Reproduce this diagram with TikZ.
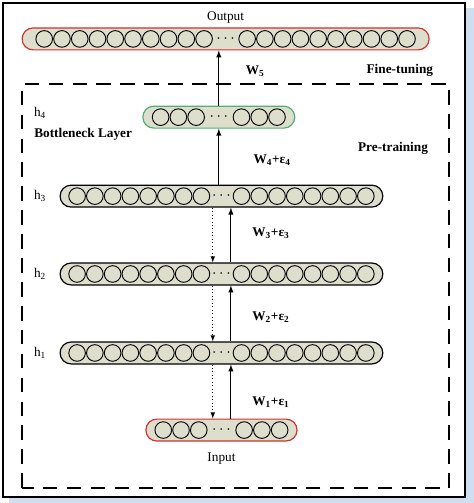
\documentclass[tikz,border=0pt]{standalone}
\usepackage{fontspec}
\setmainfont{Liberation Serif}
\usetikzlibrary{arrows,positioning,calc}

\definecolor{unitfill}{RGB}{221,223,204}
\definecolor{ioline}{RGB}{210,50,50}
\definecolor{bnline}{RGB}{80,175,115}
\definecolor{shadowblue}{RGB}{208,222,240}

% units of a layer: layer name, units per side, offset of the first unit (cm)
\newcommand{\units}[3]{%
  \foreach \k in {1,...,#2} {
    \node[unit] at ([xshift={(#3+(\k-1)*0.47)*1cm}]#1.center) {};
    \node[unit] at ([xshift={-(#3+(\k-1)*0.47)*1cm}]#1.center) {};
  }
  \node at (#1.center) {\large$\cdots$};
}

\begin{document}
\begin{tikzpicture}[
    layerbox/.style={draw, rounded corners=0.29cm, fill=unitfill, line width=0.9pt, minimum height=0.58cm, inner sep=0pt},
    unit/.style={circle, draw, line width=0.7pt, minimum size=0.44cm, inner sep=0pt},
    lbl/.style={font=\bfseries},
    >=latex
]
    \useasboundingbox (0,0) rectangle (12.54,13.31);

    % Frame
    \fill[shadowblue] (0.25,0) rectangle (12.54,13.1);
    \draw[line width=2pt, fill=white] (0.08,0.16) rectangle (12.30,13.23);

    % Pre-training box
    \draw[line width=1.6pt, dash pattern=on 11pt off 7pt] (0.58,0.40) rectangle (11.88,11.08);

    % Layers
    \node[layerbox, draw=ioline, minimum width=10.77cm] (out) at (5.97,12.28) {};
    \node[layerbox, draw=bnline, minimum width=4.02cm] (h4) at (5.79,10.21) {};
    \node[layerbox, minimum width=8.54cm] (h3) at (5.86,8.12) {};
    \node[layerbox, minimum width=8.54cm] (h2) at (5.86,6.06) {};
    \node[layerbox, minimum width=8.54cm] (h1) at (5.86,3.97) {};
    \node[layerbox, draw=ioline, minimum width=4.0cm] (in) at (5.86,1.93) {};

    % Units
    \units{out}{10}{0.57}
    \units{h4}{3}{0.6}
    \units{h3}{8}{0.53}
    \units{h2}{8}{0.53}
    \units{h1}{8}{0.53}
    \units{in}{3}{0.6}

    % Arrows
    \draw[->, thick] (h4.north) -- (h4.north |- out.south);
    \draw[->, thick] (h4.south |- h3.north) -- (h4.south);
    \foreach \lo/\hi in {in/h1, h1/h2, h2/h3} {
        \draw[->, thick] ([xshift=0.25cm]\lo.north) -- ([xshift=0.25cm]\hi.south);
        \draw[->, semithick, dotted] ([xshift=-0.23cm]\hi.south) -- ([xshift=-0.23cm]\lo.north);
    }

    % Labels
    \node[above=-0.03cm of out] (outlbl) {Output};
    \node[below=0.17cm of in] (inlbl) {Input};
    \node[lbl] (w5) at (6.75,11.43) {W\textsubscript{5}};
    \node[lbl] (ftlbl) at (10.58,11.46) {Fine-tuning};
    \node[lbl] (ptlbl) at (10.40,9.39) {Pre-training};
    \node (h4lbl) at (1.06,10.32) {h\textsubscript{4}};
    \node[lbl] (bnlbl) at (2.2,9.76) {Bottleneck Layer};
    \node (h3lbl) at (1.06,8.12) {h\textsubscript{3}};
    \node (h2lbl) at (1.06,6.06) {h\textsubscript{2}};
    \node (h1lbl) at (1.06,3.97) {h\textsubscript{1}};
    \node[lbl] (w4) at (7.2,9.07) {W\textsubscript{4}+ε\textsubscript{4}};
    \node[lbl] (w3) at (7.17,7.14) {W\textsubscript{3}+ε\textsubscript{3}};
    \node[lbl] (w2) at (7.17,4.92) {W\textsubscript{2}+ε\textsubscript{2}};
    \node[lbl] (w1) at (7.17,2.67) {W\textsubscript{1}+ε\textsubscript{1}};
\end{tikzpicture}
\end{document}
